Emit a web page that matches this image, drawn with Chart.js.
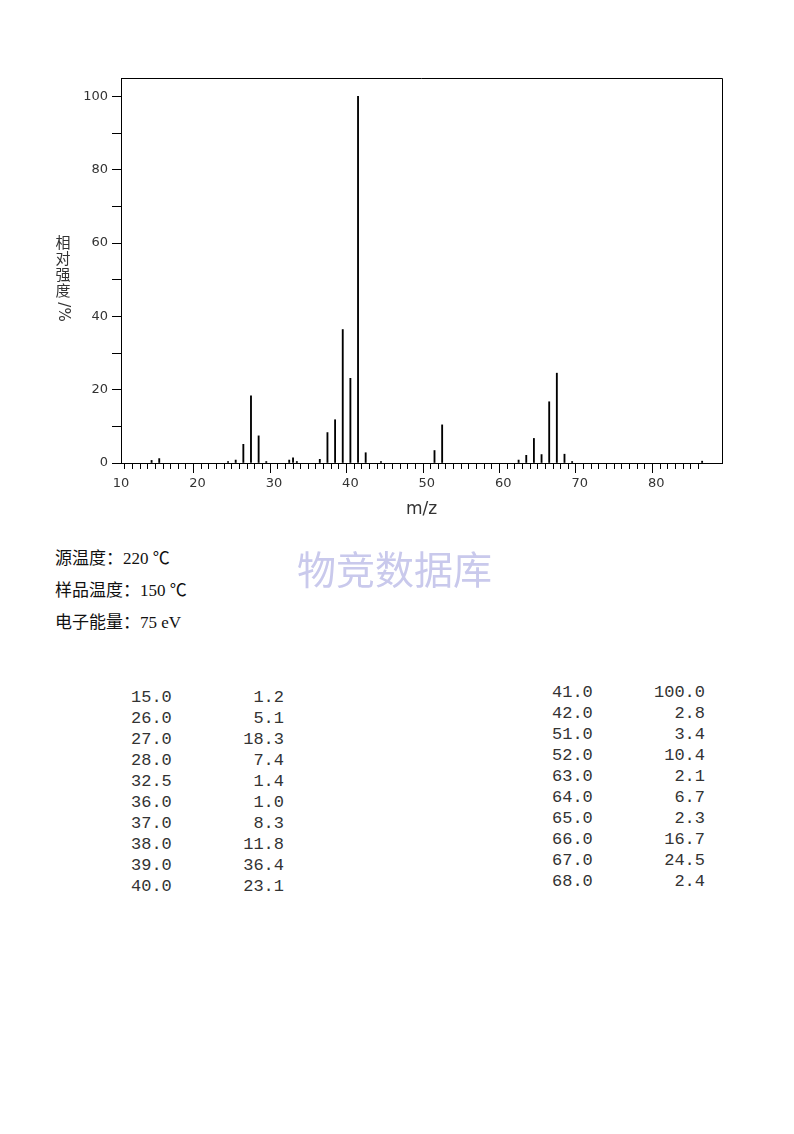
<!DOCTYPE html>
<html>
<head>
<meta charset="utf-8">
<script src="https://cdn.jsdelivr.net/npm/chart.js@4/dist/chart.umd.min.js"></script>
<style>
    body { margin: 0; background: #fff; }
    #page { position: relative; width: 794px; height: 1134px; overflow: hidden; }
    #wrap { position: absolute; left: 0; top: 0; width: 794px; height: 540px; }
    #ytitle { position: absolute; left: 54px; top: 234px; width: 18px; text-align: center;
        font: 15px "Noto Sans CJK SC", sans-serif; color: #333; }
    #ytitle div { height: 16px; line-height: 16px; }
    #ytitle div.rot { height: 26px; line-height: 26px; }
    #ytitle .rot span { display: inline-block; transform: rotate(90deg); font-family: "DejaVu Sans", sans-serif; font-size: 15px; }
    .info { position: absolute; left: 55px; font: 17px "Liberation Serif", "Noto Sans CJK SC", serif; color: #111; }
    #mark { position: absolute; left: 297px; top: 539px; font: 39px "Noto Sans CJK SC", sans-serif; color: #c9c9ec; }
    .row { position: absolute; font: 17px "Liberation Mono", monospace; color: #333; white-space: pre; }
</style>
</head>
<body>
<div id="page">
    <div id="wrap"><canvas id="spectrum" width="794" height="540"></canvas></div>
    <div id="ytitle"><div>相</div><div>对</div><div>强</div><div>度</div><div class="rot"><span>/%</span></div></div>
    <div class="info" style="top:544px">源温度：220 ℃</div>
    <div class="info" style="top:576px">样品温度：150 ℃</div>
    <div class="info" style="top:608px">电子能量：75 eV</div>
    <div id="mark">物竞数据库</div>
    <div id="table"></div>
</div>
<script>
// peaks: m/z and relative intensity (%)
const mz = [14, 15, 24, 25, 26, 27, 28, 29, 32, 32.5, 33, 36, 37, 38, 39, 40, 41, 42, 44,
    51, 52, 62, 63, 64, 65, 66, 67, 68, 69, 86];
const intensity = [0.7, 1.2, 0.4, 0.8, 5.1, 18.3, 7.4, 0.4, 0.8, 1.4, 0.4, 1.0, 8.3, 11.8, 36.4, 23.1, 100.0, 2.8, 0.4,
    3.4, 10.4, 0.8, 2.1, 6.7, 2.3, 16.7, 24.5, 2.4, 0.4, 0.5];
const xTicks = [10, 20, 30, 40, 50, 60, 70, 80];
const yTicks = [0, 20, 40, 60, 80, 100];

const canvas = document.getElementById('spectrum');

// draws the top and right edges of the plot frame
const frame = {
    id: 'frame',
    afterDraw(chart) {
        const { ctx, chartArea: a } = chart;
        ctx.save();
        ctx.strokeStyle = '#000';
        ctx.lineWidth = 1;
        ctx.beginPath();
        ctx.moveTo(a.left, a.top + 0.5);
        ctx.lineTo(a.right + 0.5, a.top + 0.5);
        ctx.lineTo(a.right + 0.5, a.bottom);
        ctx.stroke();
        ctx.restore();
    }
};

new Chart(canvas, {
    type: 'bar',
    data: {
        datasets: [{
            data: mz.map((m, i) => ({ x: m, y: intensity[i] })),
            backgroundColor: '#000',
            borderWidth: 0,
            barThickness: 1.2
        }]
    },
    options: {
        responsive: false,
        animation: false,
        layout: { padding: { left: 0, right: 72, top: 78, bottom: 17 } },
        plugins: { legend: { display: false }, tooltip: { enabled: false } },
        scales: {
            x: {
                type: 'linear',
                min: 10,
                max: 88.6,
                offset: false,
                afterFit: s => { s.height = 60; },
                afterBuildTicks: s => { s.ticks = s.ticks.filter(t => t.value <= 85); },
                border: { display: true, color: '#000', width: 1 },
                grid: {
                    drawOnChartArea: false,
                    color: '#000',
                    tickLength: 10,
                    tickBorderDash: c => xTicks.includes(c.tick && c.tick.value) ? [] : [5, 30]
                },
                ticks: {
                    stepSize: 1,
                    autoSkip: false,
                    maxRotation: 0,
                    padding: 3,
                    color: '#333',
                    font: { family: 'DejaVu Sans', size: 13 },
                    callback: v => xTicks.includes(v) ? String(v) : ''
                },
                title: {
                    display: true,
                    text: 'm/z',
                    color: '#333',
                    font: { family: 'DejaVu Sans', size: 17 },
                    padding: { top: 0, bottom: 3 }
                }
            },
            y: {
                min: 0,
                max: 105,
                afterFit: s => { s.width = 121; },
                afterBuildTicks: s => { s.ticks = s.ticks.filter(t => t.value <= 100); },
                border: { display: true, color: '#000', width: 1 },
                grid: { drawOnChartArea: false, color: '#000', tickLength: 9 },
                ticks: {
                    stepSize: 10,
                    autoSkip: false,
                    padding: 4,
                    color: '#333',
                    font: { family: 'DejaVu Sans', size: 13 },
                    callback: v => yTicks.includes(v) ? String(v) : ''
                }
            }
        }
    },
    plugins: [frame]
});

// peak list under the spectrum, two columns of ten
const listed = mz.map((m, i) => [m, intensity[i]]).filter(p => p[1] >= 1.0);
const table = document.getElementById('table');
listed.forEach(([m, v], i) => {
    const left = i < 10;
    const row = document.createElement('div');
    row.className = 'row';
    row.style.left = (left ? 131 : 552) + 'px';
    row.style.top = ((left ? 688 : 683) + (i % 10) * 21) + 'px';
    row.textContent = m.toFixed(1) + v.toFixed(1).padStart(11, ' ');
    table.appendChild(row);
});
</script>
</body>
</html>
